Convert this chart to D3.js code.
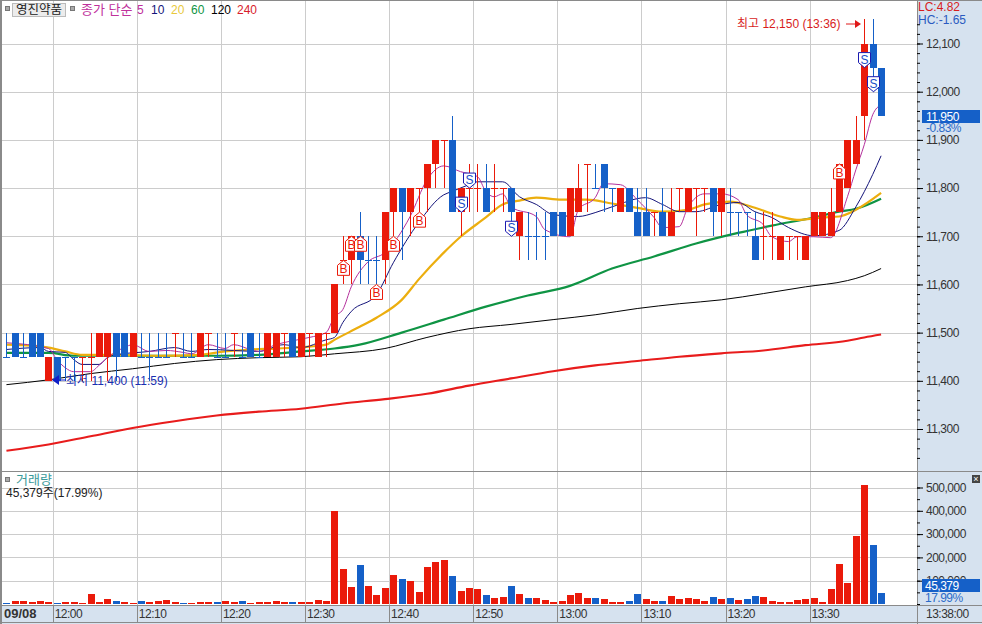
<!DOCTYPE html>
<html>
<head>
<meta charset="utf-8">
<script src="https://cdn.jsdelivr.net/npm/d3@7"></script>
<style>
html, body { margin: 0; padding: 0; background: #fff; }
svg { display: block; }
text { font-family: "Liberation Sans", "Noto Sans CJK KR", sans-serif; font-size: 12px; }
.tight { letter-spacing: -0.5px; }
</style>
</head>
<body>
<svg id="chart" width="982" height="624"></svg>
<script>
var times = ["11:54","11:55","11:56","11:57","11:58","11:59",
    "12:00","12:01","12:02","12:03","12:04","12:05","12:06","12:07","12:08","12:09",
    "12:10","12:11","12:12","12:13","12:14","12:15","12:16","12:17","12:18","12:19",
    "12:20","12:21","12:22","12:23","12:24","12:25","12:26","12:27","12:28","12:29",
    "12:30","12:31","12:32","12:33","12:34","12:35","12:36","12:37","12:38","12:39",
    "12:40","12:41","12:42","12:43","12:44","12:45","12:46","12:47","12:48","12:49",
    "12:50","12:51","12:52","12:53","12:54","12:55","12:56","12:57","12:58","12:59",
    "13:00","13:01","13:02","13:03","13:04","13:05","13:06","13:07","13:08","13:09",
    "13:10","13:11","13:12","13:13","13:14","13:15","13:16","13:17","13:18","13:19",
    "13:20","13:21","13:22","13:23","13:24","13:25","13:26","13:27","13:28","13:29",
    "13:30","13:31","13:32","13:33","13:34","13:35","13:36","13:37","13:38"];

var opens = [11450,11500,11450,11500,11500,11400,11450,11450,11450,11450,
    11450,11450,11450,11500,11500,11450,11450,11450,11450,11450,
    11500,11450,11450,11450,11500,11450,11450,11500,11450,11500,
    11450,11450,11450,11500,11500,11450,11500,11450,11500,11500,
    11650,11650,11700,11650,11650,11650,11750,11800,11750,11800,
    11800,11850,11900,11900,11750,11800,11800,11800,11800,11800,
    11800,11700,11700,11700,11700,11750,11750,11700,11750,11850,
    11800,11850,11800,11750,11800,11750,11750,11750,11750,11700,
    11800,11750,11800,11800,11800,11750,11750,11750,11750,11700,
    11700,11700,11650,11700,11700,11650,11700,11700,11700,11750,
    11800,11850,11950,12100,12050];
var highs = [11500,11500,11500,11500,11500,11450,11450,11450,11450,11450,
    11500,11500,11500,11500,11500,11500,11500,11500,11500,11500,
    11500,11500,11500,11500,11500,11500,11500,11500,11500,11500,
    11500,11500,11500,11500,11500,11500,11500,11500,11500,11600,
    11700,11700,11750,11700,11700,11750,11800,11800,11800,11800,
    11850,11900,11900,11950,11800,11850,11850,11850,11850,11800,
    11800,11750,11750,11750,11750,11750,11750,11800,11850,11850,
    11850,11850,11800,11800,11800,11800,11800,11750,11800,11800,
    11800,11800,11800,11800,11800,11800,11800,11750,11750,11750,
    11750,11750,11700,11700,11700,11700,11750,11750,11800,11850,
    11900,11950,12150,12150,12050];
var lows = [11450,11450,11450,11450,11450,11400,11400,11400,11400,11400,
    11400,11450,11400,11400,11450,11450,11450,11400,11450,11450,
    11450,11450,11450,11450,11450,11450,11450,11450,11450,11450,
    11450,11450,11450,11450,11450,11450,11450,11450,11450,11500,
    11600,11600,11600,11600,11600,11600,11700,11650,11700,11750,
    11750,11800,11800,11750,11700,11750,11750,11750,11750,11750,
    11700,11650,11650,11650,11650,11700,11700,11700,11750,11750,
    11800,11750,11750,11750,11750,11700,11700,11700,11700,11700,
    11750,11750,11700,11750,11700,11700,11700,11700,11700,11650,
    11650,11650,11650,11650,11650,11650,11700,11700,11700,11750,
    11800,11850,11900,12000,11950];
var closes = [11450,11450,11450,11450,11450,11450,11400,11450,11450,11450,
    11450,11500,11500,11450,11450,11500,11450,11450,11450,11450,
    11500,11450,11450,11500,11500,11450,11450,11500,11450,11450,
    11450,11500,11500,11500,11450,11500,11500,11500,11500,11600,
    11650,11700,11650,11650,11650,11750,11800,11750,11800,11800,
    11850,11900,11900,11750,11800,11800,11800,11750,11800,11800,
    11750,11750,11700,11700,11700,11700,11700,11800,11800,11850,
    11800,11800,11800,11800,11750,11700,11700,11750,11700,11750,
    11800,11800,11800,11800,11750,11800,11750,11750,11750,11650,
    11700,11700,11700,11700,11700,11700,11750,11750,11750,11850,
    11900,11900,12100,12050,11950];
// 1 = rising candle (red), 0 = falling (blue)
var rising = [0,0,0,0,0,1,0,0,0,1, 1,1,1,0,0,1,0,0,0,0,
    1,0,0,1,1,0,0,1,0,0, 0,1,1,1,0,1,1,1,1,1,
    1,1,0,0,0,1,1,0,1,1, 1,1,1,0,1,1,1,0,1,1,
    0,1,0,0,0,0,0,1,1,1, 0,0,0,1,0,0,0,1,0,1,
    1,1,1,1,0,1,0,0,0,0, 1,1,1,1,1,1,1,1,1,1,
    1,1,1,0,0];

var volumes = [4000,13000,13000,9000,13000,9000,4000,9000,9000,4000,
    43000,9000,22000,13000,8000,3000,13000,9000,13000,17000,
    9000,3000,3000,9000,9000,9000,13000,9000,13000,3000,
    9000,9000,13000,9000,9000,9000,9000,17000,13000,400000,
    150000,73000,168000,78000,39000,69000,125000,108000,99000,52000,
    160000,181000,190000,120000,56000,69000,65000,39000,26000,30000,
    78000,43000,26000,26000,17000,9000,13000,39000,47000,26000,
    26000,22000,9000,9000,13000,43000,22000,13000,13000,35000,
    22000,26000,22000,13000,30000,22000,26000,17000,22000,35000,
    30000,13000,9000,9000,17000,22000,26000,9000,65000,172000,
    91000,293000,509000,254000,45379];
var volFalling = ["11:54","12:00","12:07","12:10","12:15","12:19","12:22","12:28","12:36","12:41",
    "12:47","12:51","12:54","12:56","13:04","13:08","13:09","13:12","13:18","13:20",
    "13:22","13:23","13:37","13:38"];

var ma5Idx = [0,5,6,7,8,10,11,12,14,15,17,19,21,22,24,26,27,29,30,32,34,36,38,39,40,41,43,45,48,50,52,54,56,57,58,59,60,63,64,67,68,70,71,73,75,77,78,80,81,83,85,87,88,90,91,93,94,96,98,100,101,102,103,104];
var ma5 = [11479,11467,11444,11427,11419,11419,11432,11448,11469,11475,11461,11463,11459,11456,11475,11467,11475,11465,11461,11475,11483,11490,11500,11533,11548,11595,11647,11666,11741,11817,11846,11834,11824,11793,11782,11788,11761,11741,11714,11699,11755,11780,11809,11807,11776,11739,11718,11720,11759,11788,11788,11776,11745,11724,11699,11689,11699,11699,11697,11782,11838,11890,11952,11973];
var ma10Idx = [0,4,5,7,8,9,11,12,13,17,20,22,24,30,33,35,38,39,40,41,44,46,49,52,53,55,56,59,61,63,65,68,70,72,76,78,80,82,85,87,89,91,93,96,99,101,103,104];
var ma10 = [11465,11469,11461,11459,11444,11434,11434,11448,11454,11461,11469,11461,11465,11461,11475,11469,11485,11490,11521,11544,11579,11645,11728,11786,11793,11807,11813,11813,11782,11766,11745,11741,11749,11761,11780,11766,11751,11751,11766,11770,11751,11739,11718,11701,11712,11761,11828,11867];
var ma20Idx = [0,3,5,7,9,13,18,23,26,29,32,36,38,39,42,44,47,49,52,54,57,59,61,63,66,69,72,75,78,81,83,86,89,92,94,97,99,101,104];
var ma20 = [11475,11473,11469,11461,11454,11454,11452,11454,11461,11465,11467,11471,11475,11485,11512,11531,11568,11610,11666,11699,11739,11766,11774,11780,11776,11776,11768,11759,11751,11755,11766,11772,11759,11741,11734,11739,11741,11755,11790];
var ma60Idx = [0,5,8,15,25,30,35,39,42,47,52,57,62,67,72,77,82,87,91,96,99,101,104];
var ma60 = [11458,11458,11452,11452,11452,11454,11461,11467,11475,11500,11527,11554,11577,11597,11633,11658,11685,11707,11722,11739,11751,11757,11778];
var ma120Idx = [0,5,10,15,20,25,30,35,39,45,50,55,60,65,70,75,80,85,90,95,100,102,104];
var ma120 = [11392,11402,11415,11425,11436,11444,11448,11450,11456,11467,11490,11508,11517,11527,11537,11550,11560,11568,11581,11595,11608,11618,11633];
var ma240Idx = [0,5,10,15,20,25,30,35,40,45,50,55,60,65,70,75,80,85,90,95,100,102,104];
var ma240 = [11255,11268,11285,11302,11316,11328,11336,11342,11353,11362,11373,11390,11405,11420,11432,11441,11450,11457,11463,11474,11483,11490,11496];

var buyTimes = ["12:34","12:35","12:36","12:38","12:40","12:43","13:33"];
var buyPrices = [11650,11700,11700,11600,11700,11750,11850];
var sellTimes = ["12:48","12:49","12:54","13:36","13:37"];
var sellPrices = [11750,11800,11700,12050,12000];

var priceTicks = [11300,11400,11500,11600,11700,11800,11900,12000,12100];
var volTicks = [100000,200000,300000,400000,500000];
var timeTicks = ["12:00","12:10","12:20","12:30","12:40","12:50","13:00","13:10","13:20","13:30"];

var RED = "#ea1a0a", BLUE = "#1560c8", GRID = "#cccccc", AXISBG = "#d6e2ef", FRAME = "#8a8a8a";
var panelRight = 917, priceBottom = 471, volBottom = 605;

var svg = d3.select("#chart");

var x = d3.scaleBand().domain(times).range([2.24, 885.3]);
var bar = 7;
function cx(t) { return Math.round(x(t) + x.step() / 2) + 0.5; }

var y = d3.scaleLinear().domain([11300, 12100]).range([429, 43.5]);
var yv = d3.scaleLinear().domain([0, 500000]).range([604, 487.5]);

// axis background
svg.append("rect").attr("x", panelRight).attr("y", 0).attr("width", 982 - panelRight).attr("height", 624).attr("fill", AXISBG);
svg.append("rect").attr("x", 0).attr("y", volBottom).attr("width", 982).attr("height", 19).attr("fill", AXISBG);

// grid
var grid = svg.append("g").attr("stroke", GRID).attr("stroke-width", 1);
grid.selectAll(".hp").data(priceTicks).enter().append("line")
    .attr("x1", 2).attr("x2", panelRight)
    .attr("y1", function(d) { return Math.round(y(d)) + 0.5; })
    .attr("y2", function(d) { return Math.round(y(d)) + 0.5; });
grid.selectAll(".hv").data(volTicks).enter().append("line")
    .attr("x1", 2).attr("x2", panelRight)
    .attr("y1", function(d) { return Math.round(yv(d)) + 0.5; })
    .attr("y2", function(d) { return Math.round(yv(d)) + 0.5; });
grid.selectAll(".v").data(timeTicks).enter().append("line")
    .attr("x1", function(d) { return Math.round(x(d)) + 0.5; })
    .attr("x2", function(d) { return Math.round(x(d)) + 0.5; })
    .attr("y1", 0).attr("y2", volBottom);

// moving averages
var lineGen = d3.line().curve(d3.curveMonotoneX);
function drawMa(idx, vals, color, w) {
    var pts = idx.map(function(i, k) { return [x(times[i]) + x.step() / 2, y(vals[k])]; });
    svg.append("path").attr("d", lineGen(pts)).attr("fill", "none")
        .attr("stroke", color).attr("stroke-width", w);
}
drawMa(ma240Idx, ma240, "#e81c1c", 2.1);
drawMa(ma120Idx, ma120, "#000000", 1);
drawMa(ma60Idx, ma60, "#0f9444", 2.2);
drawMa(ma20Idx, ma20, "#ecae0e", 2.2);
drawMa(ma10Idx, ma10, "#14147a", 1);
drawMa(ma5Idx, ma5, "#b4309c", 1);

// candles
var candles = svg.append("g");
times.forEach(function(t, i) {
    var c = rising[i] ? RED : BLUE;
    var top = Math.round(y(Math.max(opens[i], closes[i])));
    var bot = Math.round(y(Math.min(opens[i], closes[i])));
    candles.append("line")
        .attr("x1", cx(t)).attr("x2", cx(t))
        .attr("y1", Math.round(y(highs[i]))).attr("y2", Math.round(y(lows[i])))
        .attr("stroke", c).attr("stroke-width", 1);
    if (top === bot) {
        candles.append("line")
            .attr("x1", cx(t) - 3.5).attr("x2", cx(t) + 3.5)
            .attr("y1", top + 0.5).attr("y2", top + 0.5)
            .attr("stroke", c).attr("stroke-width", 1);
    } else {
        candles.append("rect")
            .attr("x", cx(t) - 3.5).attr("y", top)
            .attr("width", bar).attr("height", bot - top)
            .attr("fill", c);
    }
});

// buy / sell flags
var flags = svg.append("g");
buyTimes.forEach(function(t, k) {
    var g = flags.append("g").attr("transform", "translate(" + cx(t) + "," + y(buyPrices[k]) + ")");
    g.append("path").attr("d", "M0,0L6,5V15H-6V5Z").attr("fill", "#fff").attr("stroke", RED);
    g.append("text").attr("y", 13).attr("text-anchor", "middle").attr("fill", RED).text("B");
});
sellTimes.forEach(function(t, k) {
    var g = flags.append("g").attr("transform", "translate(" + cx(t) + "," + y(sellPrices[k]) + ")");
    g.append("path").attr("d", "M0,0L6,-5V-15H-6V-5Z").attr("fill", "#fff").attr("stroke", "#1a1ab0");
    g.append("text").attr("y", -4).attr("text-anchor", "middle").attr("fill", "#1a50c8").text("S");
});

// volume bars
svg.append("g").selectAll("rect").data(times).enter().append("rect")
    .attr("x", function(t) { return cx(t) - 3.5; })
    .attr("y", function(t, i) { return Math.round(yv(volumes[i])); })
    .attr("width", bar)
    .attr("height", function(t, i) { return 604 - Math.round(yv(volumes[i])); })
    .attr("fill", function(t) { return volFalling.indexOf(t) >= 0 ? BLUE : RED; });

// frame
var frame = svg.append("g").attr("stroke", FRAME).attr("fill", "none");
frame.append("line").attr("x1", 0).attr("x2", 982).attr("y1", 0.5).attr("y2", 0.5);
frame.append("line").attr("x1", 0).attr("x2", 982).attr("y1", 471.5).attr("y2", 471.5);
frame.append("line").attr("x1", 0).attr("x2", 982).attr("y1", 605.5).attr("y2", 605.5);
frame.append("line").attr("x1", 917.5).attr("x2", 917.5).attr("y1", 0).attr("y2", 624);
frame.append("line").attr("x1", 1).attr("x2", 1).attr("y1", 0).attr("y2", 624).attr("stroke-width", 2);
frame.append("line").attr("x1", 0).attr("x2", 982).attr("y1", 622.5).attr("y2", 622.5);

// price axis
svg.append("g").attr("class", "axis").attr("transform", "translate(917,0)")
    .call(d3.axisRight(y).tickValues(priceTicks).tickSize(6).tickPadding(3).tickFormat(d3.format(",")));
svg.append("g").attr("transform", "translate(917,0)")
    .call(d3.axisRight(y).tickValues(d3.range(11240, 12160, 20)).tickSize(3).tickFormat(""))
    .call(function(g) { g.select(".domain").remove(); });
svg.append("g").attr("class", "axis").attr("transform", "translate(917,0)")
    .call(d3.axisRight(yv).tickValues(volTicks).tickSize(6).tickPadding(3).tickFormat(d3.format(",")));
svg.append("g").attr("transform", "translate(917,0)")
    .call(d3.axisRight(yv).tickValues(d3.range(0, 540000, 50000)).tickSize(3).tickFormat(""))
    .call(function(g) { g.select(".domain").remove(); });
svg.selectAll(".axis .domain").remove();
svg.selectAll(".axis text").attr("fill", "#333").attr("class", "tight").style("font-size", "12px");

// time axis
svg.append("g").selectAll("line").data(timeTicks).enter().append("line")
    .attr("x1", function(d) { return Math.round(x(d)) + 0.5; })
    .attr("x2", function(d) { return Math.round(x(d)) + 0.5; })
    .attr("y1", volBottom).attr("y2", 623).attr("stroke", FRAME);
svg.append("g").selectAll("text").data(timeTicks).enter().append("text")
    .attr("class", "tight")
    .attr("x", function(d) { return x(d) + 2; })
    .attr("y", 618).attr("fill", "#333").text(function(d) { return d; });
svg.append("text").attr("x", 4).attr("y", 618).attr("fill", "#333").attr("font-weight", "bold").style("font-size", "13px").text("09/08");
svg.append("text").attr("class", "tight").attr("x", 926).attr("y", 618).attr("fill", "#333").text("13:38:00");

// last price tag
svg.append("rect").attr("x", 922).attr("y", 110).attr("width", 58).attr("height", 13).attr("fill", BLUE);
svg.append("text").attr("class", "tight").attr("x", 926).attr("y", 121).attr("fill", "#fff").text("11,950");
svg.append("text").attr("class", "tight").attr("x", 926).attr("y", 132).attr("fill", "#2a6ac8").text("-0.83%");
svg.append("text").attr("x", 918).attr("y", 11).attr("fill", "#d81c1c").text("LC:4.82");
svg.append("text").attr("x", 918).attr("y", 24).attr("fill", "#2a5ac0").text("HC:-1.65");

// last volume tag
svg.append("rect").attr("x", 922).attr("y", 579).attr("width", 58).attr("height", 13).attr("fill", BLUE);
svg.append("text").attr("class", "tight").attr("x", 925).attr("y", 590).attr("fill", "#fff").text("45,379");
svg.append("text").attr("class", "tight").attr("x", 925).attr("y", 602).attr("fill", "#2a6ac8").text("17.99%");

// close box
svg.append("rect").attr("x", 972).attr("y", 475).attr("width", 8).attr("height", 8).attr("fill", "#444");
svg.append("text").attr("x", 976).attr("y", 482).attr("text-anchor", "middle").attr("fill", "#fff").style("font-size", "9px").text("×");

// legend
svg.append("rect").attr("x", 5.5).attr("y", 6.5).attr("width", 4).attr("height", 4).attr("fill", "#aaa").attr("stroke", "#777");
svg.append("rect").attr("x", 12.5).attr("y", 3.5).attr("width", 53).attr("height", 13).attr("fill", "#ececec").attr("stroke", "#bbb");
svg.append("text").attr("x", 16).attr("y", 14).attr("fill", "#222").style("font-size", "12.5px").text("영진약품");
svg.append("rect").attr("x", 70.5).attr("y", 6.5).attr("width", 4).attr("height", 4).attr("fill", "#aaa").attr("stroke", "#777");
var legendNames = ["종가 단순", "5", "10", "20", "60", "120", "240"];
var legendColors = ["#c0309c", "#c0309c", "#14147a", "#e8c83c", "#0f9444", "#000000", "#d81c2c"];
var legendX = [81, 137, 151, 171, 191, 211, 237];
svg.append("g").selectAll("text").data(legendNames).enter().append("text")
    .attr("x", function(d, i) { return legendX[i]; })
    .attr("y", 14)
    .attr("fill", function(d, i) { return legendColors[i]; })
    .style("font-size", function(d, i) { return i === 0 ? "13px" : "12px"; })
    .text(function(d) { return d; });

svg.append("rect").attr("x", 5.5).attr("y", 477.5).attr("width", 4).attr("height", 4).attr("fill", "#aaa").attr("stroke", "#777");
svg.append("text").attr("x", 16).attr("y", 484).attr("fill", "#3a9a9a").style("font-size", "13px").text("거래량");
svg.append("text").attr("x", 6).attr("y", 497).attr("fill", "#222").text("45,379주(17.99%)");

// high / low notes
svg.append("text").attr("x", 737).attr("y", 28).attr("fill", "#d81c1c").text("최고 12,150 (13:36)");
svg.append("path").attr("d", "M846,24H856").attr("stroke", "#e01818").attr("stroke-width", 1);
svg.append("path").attr("d", "M855,20L861,24L855,28Z").attr("fill", "#e01818");
svg.append("text").attr("x", 66).attr("y", 385).attr("fill", "#1a30b0").text("최저 11,400 (11:59)");
svg.append("path").attr("d", "M58,380H66").attr("stroke", "#1020c8").attr("stroke-width", 1);
svg.append("path").attr("d", "M52,380L59,375V385Z").attr("fill", "#1020c8");
</script>
</body>
</html>
